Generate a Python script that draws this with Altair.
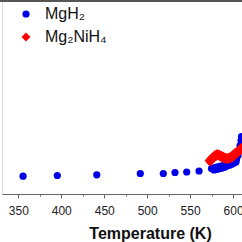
import altair as alt
import pandas as pd

# MgH2 (blue circles): temperature (K) and signal (arbitrary units)
mgh2_T = [355.5, 395.4, 441.3, 492.0, 518.8, 532.4, 546.0, 560.4, 574.9,
          576.7, 579.0, 581.3, 583.6, 586.0, 588.3, 590.6, 592.9, 595.3,
          597.6, 599.9, 602.2, 604.0, 605.8, 607.0, 608.1, 609.3, 609.8,
          577.8, 580.2, 582.5, 584.8, 587.1, 589.4, 591.8, 594.1, 596.4,
          598.8, 601.1, 603.4]
mgh2_v = [17.8, 18.5, 19.2, 20.5, 20.5, 21.5, 22.0, 23.0, 25.5,
          26.0, 26.5, 27.0, 27.5, 28.0, 28.5, 29.5, 30.5, 31.0,
          31.5, 32.5, 33.5, 34.5, 38.5, 43.5, 48.5, 53.5, 57.5,
          24.0, 24.5, 25.0, 25.5, 26.0, 26.5, 27.5, 28.5, 29.0,
          30.0, 31.0, 32.0]

# Mg2NiH4 (red diamonds)
mg2nih4_T = [572.0, 574.3, 576.7, 579.0, 581.3, 583.6, 586.0, 588.3, 590.6,
             592.9, 595.3, 597.6, 599.9, 602.2, 604.6, 606.9, 609.3,
             573.2, 575.5, 577.8, 580.2, 582.5, 584.8, 587.1, 589.4, 591.8,
             594.1, 596.4, 598.8, 601.1, 603.4, 605.7, 608.0, 610.0]
mg2nih4_v = [33.5, 35.5, 37.5, 39.5, 40.5, 40.0, 39.0, 38.0, 37.0,
             36.5, 37.0, 38.0, 39.5, 41.5, 42.5, 44.5, 46.5,
             32.0, 34.0, 36.0, 37.5, 38.0, 37.0, 36.0, 35.0, 34.5,
             34.5, 35.0, 36.0, 37.5, 39.5, 41.0, 43.0, 44.5]

series_names = ["MgH\u2082", "Mg\u2082NiH\u2084"]
series_colors = ["#0000e6", "#ff0000"]
series_shapes = ["circle", "diamond"]
series_sizes = [52, 80]

major_ticks = [350, 400, 450, 500, 550, 600]
minor_ticks = [375, 425, 475, 525, 575]

df = pd.concat([
    pd.DataFrame({"T": mgh2_T, "v": mgh2_v, "s": series_names[0]}),
    pd.DataFrame({"T": mg2nih4_T, "v": mg2nih4_v, "s": series_names[1]}),
], ignore_index=True)

FONT = "Liberation Sans, Arial, DejaVu Sans"
xscale = alt.Scale(domain=[331, 610.4], nice=False, zero=False)
yscale = alt.Scale(domain=[0, 193], nice=False, zero=True)

points = alt.Chart(df).mark_point(filled=True, opacity=1, strokeWidth=0, clip=True).encode(
    x=alt.X("T:Q", scale=xscale,
            axis=alt.Axis(values=major_ticks, title="Temperature (K)", orient="bottom",
                          grid=False, tickSize=4, tickColor="#666", domainColor="#666",
                          domainWidth=1.2, labelFont=FONT, labelFontSize=12, labelColor="#222",
                          labelPadding=7, titleFont=FONT, titleFontSize=16, titleFontWeight="bold",
                          titleColor="#111", titleX=148, titleAlign="center", titlePadding=9)),
    y=alt.Y("v:Q", scale=yscale, axis=None),
    color=alt.Color("s:N", scale=alt.Scale(domain=series_names, range=series_colors),
                    legend=alt.Legend(title=None, orient="none", legendX=16, legendY=5,
                                      labelFont=FONT, labelFontSize=16, labelColor="#111",
                                      symbolSize=55, symbolStrokeWidth=0, padding=0,
                                      rowPadding=7, labelOffset=11)),
    shape=alt.Shape("s:N", scale=alt.Scale(domain=series_names, range=series_shapes)),
    size=alt.Size("s:N", scale=alt.Scale(domain=series_names, range=series_sizes), legend=None),
    order=alt.Order("s_order:Q"),
).transform_calculate(s_order=f"datum.s == '{series_names[0]}' ? 0 : 1")

minor = alt.Chart(df).mark_point(opacity=0).encode(
    x=alt.X("T:Q", scale=xscale,
            axis=alt.Axis(values=minor_ticks, orient="bottom", labels=False, domain=False,
                          grid=False, tickSize=2, tickColor="#666", title=None)),
    y=alt.Y("v:Q", scale=yscale, axis=None),
)

top_line = alt.Chart(df).mark_rule(color="#555", strokeWidth=2).encode(
    y=alt.value(0), x=alt.value(-2), x2=alt.value(242)
)

chart = alt.layer(minor, points, top_line).resolve_axis(x="independent").properties(
    width=240, height=193,
    autosize=alt.AutoSizeParams(type="none"),
    padding={"left": 2, "top": 1, "right": 0, "bottom": 48},
).configure_view(stroke="#a0a0a0", strokeWidth=1).configure(background="white")

chart.save("out.html", embed_options={"renderer": "svg", "actions": False})
